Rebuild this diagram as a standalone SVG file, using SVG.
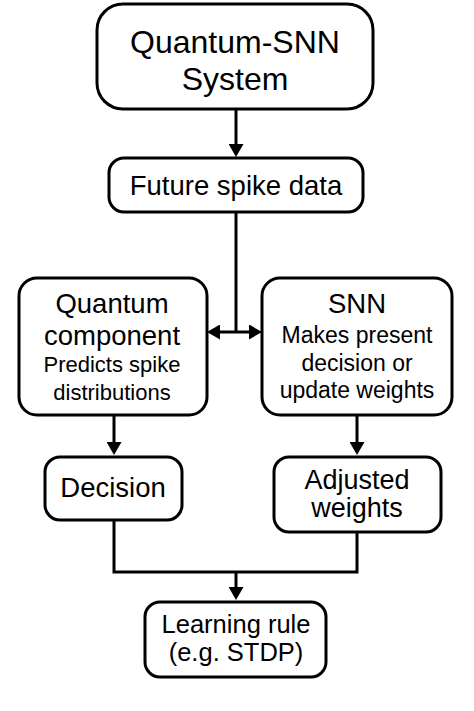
<svg xmlns="http://www.w3.org/2000/svg" width="474" height="711" viewBox="0 0 474 711">
<defs>
<style>
.box{fill:#fff;stroke:#000;stroke-width:3}
.t{font-family:"Liberation Sans",Arial,sans-serif;fill:#000;text-anchor:middle}
.conn{fill:none;stroke:#000;stroke-width:3}
</style>
<marker id="ah" viewBox="0 0 13 15" markerWidth="13" markerHeight="15" refX="3" refY="7.5" orient="auto-start-reverse" markerUnits="userSpaceOnUse">
<path d="M0,0 L13,7.5 L0,15 Z" fill="#000"/>
</marker>
</defs>
<rect width="474" height="711" fill="#fff"/>
<g id="connectors">
<path class="conn" d="M236,109 V147" marker-end="url(#ah)"/>
<path class="conn" d="M236,212 V332"/>
<path class="conn" d="M217,332 H252" marker-start="url(#ah)" marker-end="url(#ah)"/>
<path class="conn" d="M114,415 V445" marker-end="url(#ah)"/>
<path class="conn" d="M357,415 V445" marker-end="url(#ah)"/>
<path class="conn" d="M114,520 V572 H357 V532"/>
<path class="conn" d="M236,572 V590" marker-end="url(#ah)"/>
</g>
<g id="system">
<rect class="box" x="97" y="4" width="276" height="105" rx="26"/>
<text class="t" x="235" y="53" font-size="32">Quantum-SNN</text>
<text class="t" x="235" y="90" font-size="32">System</text>
</g>
<g id="future">
<rect class="box" x="109" y="158" width="254" height="54" rx="15"/>
<text class="t" x="236" y="195" font-size="27.5">Future spike data</text>
</g>
<g id="quantum">
<rect class="box" x="19" y="278" width="188" height="137" rx="18"/>
<text class="t" x="112" y="313" font-size="27.5">Quantum</text>
<text class="t" x="112" y="345" font-size="27.5">component</text>
<text class="t" x="112" y="372" font-size="22">Predicts spike</text>
<text class="t" x="112" y="400" font-size="22">distributions</text>
</g>
<g id="snn">
<rect class="box" x="262" y="278" width="190" height="137" rx="18"/>
<text class="t" x="357" y="313" font-size="27.5">SNN</text>
<text class="t" x="357" y="343" font-size="23">Makes present</text>
<text class="t" x="357" y="371" font-size="23">decision or</text>
<text class="t" x="357" y="398" font-size="23">update weights</text>
</g>
<g id="decision">
<rect class="box" x="45" y="457" width="137" height="63" rx="15"/>
<text class="t" x="113" y="497" font-size="27.5">Decision</text>
</g>
<g id="adjusted">
<rect class="box" x="274" y="457" width="167" height="75" rx="15"/>
<text class="t" x="357" y="489" font-size="27">Adjusted</text>
<text class="t" x="357" y="517" font-size="27">weights</text>
</g>
<g id="learning">
<rect class="box" x="145" y="602" width="181" height="75" rx="15"/>
<text class="t" x="236" y="633" font-size="25.5">Learning rule</text>
<text class="t" x="236" y="661" font-size="25.5">(e.g. STDP)</text>
</g>
</svg>
